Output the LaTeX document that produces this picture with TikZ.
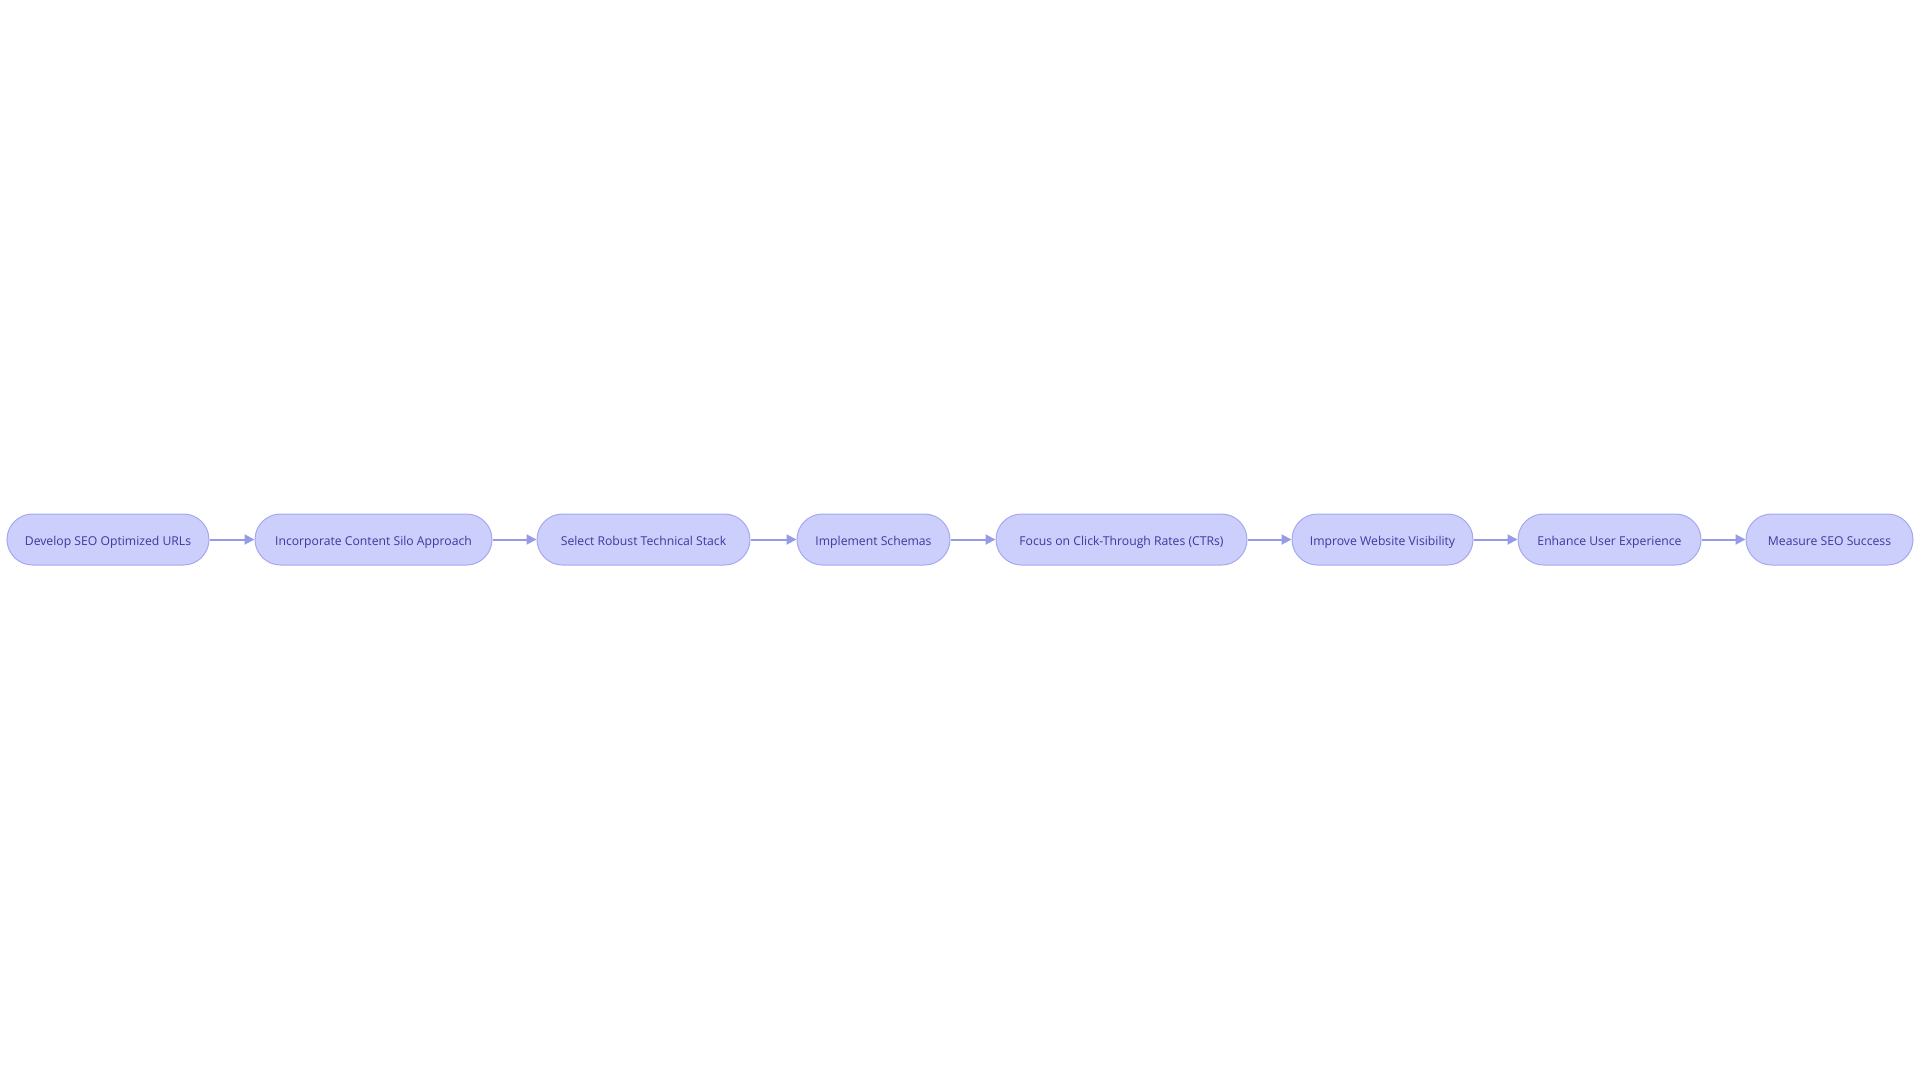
\documentclass[tikz,border=0pt]{standalone}
\usepackage{fontspec}
\setmainfont{Open Sans}
\usetikzlibrary{arrows.meta}
\definecolor{nodefill}{RGB}{204,206,252}
\definecolor{nodeline}{RGB}{165,168,240}
\definecolor{arrowcol}{RGB}{150,155,232}
\definecolor{textcol}{RGB}{58,58,158}
\tikzset{
  stepbox/.style={draw=nodeline, fill=nodefill, line width=1pt, rounded corners=25.5pt,
    minimum height=51pt, inner sep=0pt, text height=13pt, text depth=0.5pt,
    text=textcol, font=\fontsize{12.2}{14}\selectfont},
  flow/.style={draw=arrowcol, line width=2pt, -{Triangle[length=10pt,width=10pt]}}
}
\begin{document}
\begin{tikzpicture}[x=1pt,y=-1pt]
\useasboundingbox (0,0) rectangle (1920,1080);
\node[stepbox, minimum width=202pt] (n1) at (108,539.5) {Develop SEO Optimized URLs};
\node[stepbox, minimum width=237pt] (n2) at (373.5,539.5) {Incorporate Content Silo Approach};
\node[stepbox, minimum width=213pt] (n3) at (643.5,539.5) {Select Robust Technical Stack};
\node[stepbox, minimum width=153pt] (n4) at (873.5,539.5) {Implement Schemas};
\node[stepbox, minimum width=251pt] (n5) at (1121.5,539.5) {Focus on Click-Through Rates (CTRs)};
\node[stepbox, minimum width=181pt] (n6) at (1382.5,539.5) {Improve Website Visibility};
\node[stepbox, minimum width=183pt] (n7) at (1609.5,539.5) {Enhance User Experience};
\node[stepbox, minimum width=167pt] (n8) at (1829.5,539.5) {Measure SEO Success};
\draw[flow] (n1) -- (n2);
\draw[flow] (n2) -- (n3);
\draw[flow] (n3) -- (n4);
\draw[flow] (n4) -- (n5);
\draw[flow] (n5) -- (n6);
\draw[flow] (n6) -- (n7);
\draw[flow] (n7) -- (n8);
\end{tikzpicture}
\end{document}
